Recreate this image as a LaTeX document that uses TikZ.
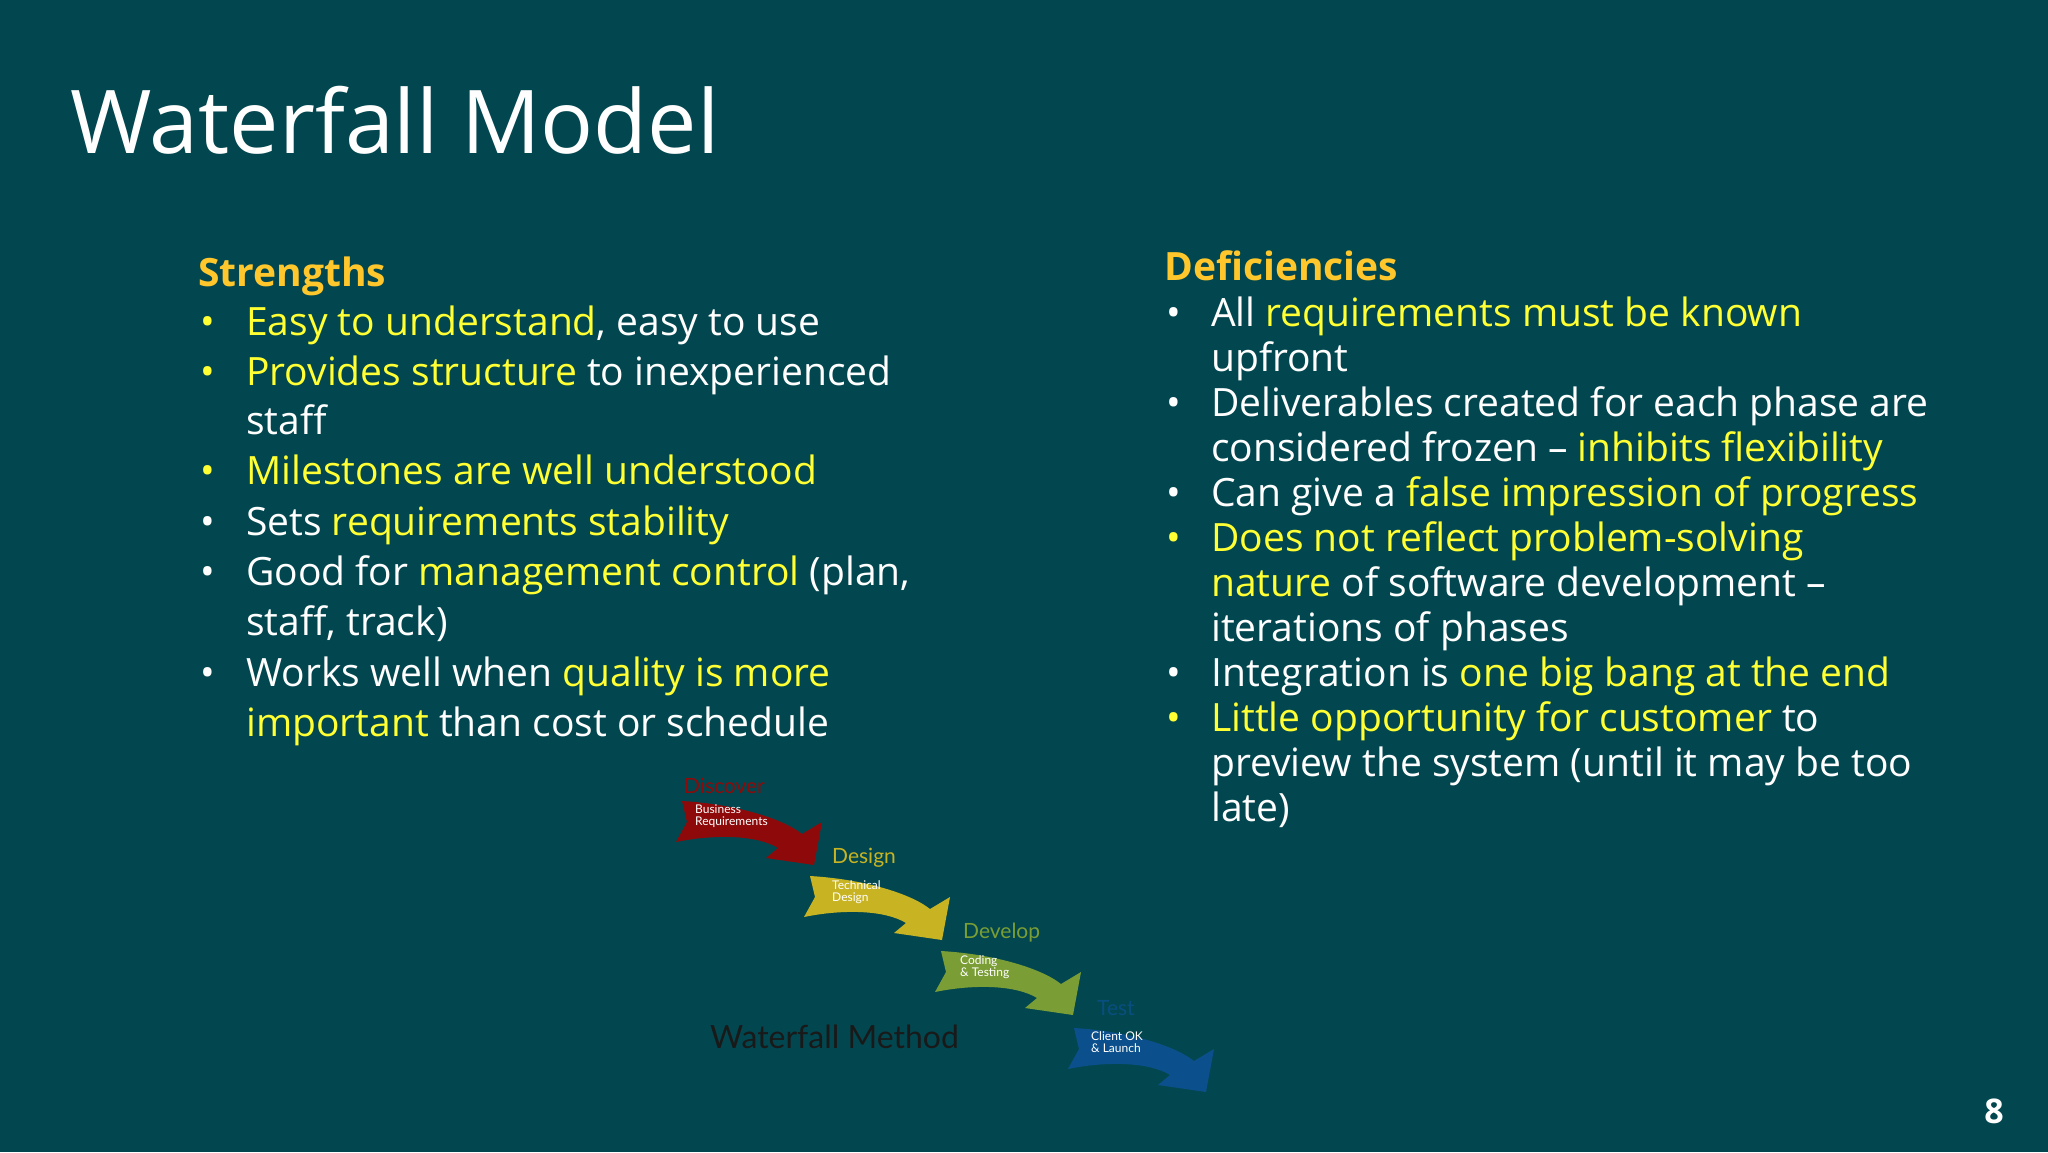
\documentclass[tikz,border=0pt]{standalone}
\usepackage{fontspec}
\setmainfont{Open Sans}
\newfontfamily\wffont{Lato}
\definecolor{bg}{HTML}{02474F}
\definecolor{hl}{HTML}{FFFF33}
\definecolor{hd}{HTML}{FFC72C}
\definecolor{wred}{HTML}{8E0A0A}
\definecolor{wyel}{HTML}{C8B422}
\definecolor{wgrn}{HTML}{7A9E35}
\definecolor{wblu}{HTML}{0B508C}
\newcommand\wfarrow[3]{\fill[#3,shift={(#1,#2)}] (0,-2) .. controls (52,1) and (100,15) .. (120,31) -- (140,19) -- (132,62) -- (84,55) -- (96,45) .. controls (75,32) and (33,31) .. (-6,39) -- (5,19) -- cycle;}
\newcommand\hy[1]{\textcolor{hl}{#1}}
\tikzset{
 ln/.style={anchor=base west,inner sep=0pt,text=white,font=\fontsize{39}{39}\selectfont},
 hdr/.style={anchor=base west,inner sep=0pt,text=hd,font=\fontsize{39}{39}\selectfont\bfseries},
 wl/.style={anchor=west,inner sep=0pt,font=\wffont\fontsize{21}{21}\selectfont},
 wi/.style={anchor=north west,inner sep=0pt,text=white,align=left,font=\wffont\fontsize{12}{12}\selectfont},
}
\begin{document}
\begin{tikzpicture}[x=1pt,y=-1pt]
\fill[bg] (0,0) rectangle (2048,1152);
\useasboundingbox (0,0) rectangle (2048,1152);
\node[anchor=base west,inner sep=0pt,text=white,font=\fontsize{88}{88}\selectfont] (title) at (70,153) {Waterfall Model};
% Strengths
\node[hdr] (sh) at (198,286) {Strengths};
\foreach \y/\c [count=\i] in {335/hl,385/hl,484/hl,535/white,585/white,686/white}
  \node[ln,text=\c] (sb\i) at (200,\y) {•};
\node[ln] (s1) at (246,335) {\hy{Easy to understand}, easy to use};
\node[ln] (s2) at (246,385) {\hy{Provides structure} to inexperienced};
\node[ln] (s3) at (246,434) {staff};
\node[ln] (s4) at (246,484) {\hy{Milestones are well understood}};
\node[ln] (s5) at (246,535) {Sets \hy{requirements stability}};
\node[ln] (s6) at (246,585) {Good for \hy{management control} (plan,};
\node[ln] (s7) at (246,635) {staff, track)};
\node[ln] (s8) at (246,686) {Works well when \hy{quality is more}};
\node[ln] (s9) at (246,736) {\hy{important} than cost or schedule};
% Deficiencies
\node[hdr] (dh) at (1164,280) {Deficiencies};
\foreach \k/\c [count=\i] in {0/white,2/white,4/white,5/hl,8/white,9/hl}
  \node[ln,text=\c] (db\i) at (1166,326+45*\k) {•};
\node[ln] (d1) at (1211,326) {All \hy{requirements must be known}};
\node[ln] (d2) at (1211,371) {upfront};
\node[ln] (d3) at (1211,416) {Deliverables created for each phase are};
\node[ln] (d4) at (1211,461) {considered frozen – \hy{inhibits flexibility}};
\node[ln] (d5) at (1211,506) {Can give a \hy{false impression of progress}};
\node[ln] (d6) at (1211,551) {\hy{Does not reflect problem-solving}};
\node[ln] (d7) at (1211,596) {\hy{nature} of software development –};
\node[ln] (d8) at (1211,641) {iterations of phases};
\node[ln] (d9) at (1211,686) {Integration is \hy{one big bang at the end}};
\node[ln] (d10) at (1211,731) {\hy{Little opportunity for customer} to};
\node[ln] (d11) at (1211,776) {preview the system (until it may be too};
\node[ln] (d12) at (1211,821) {late)};
% Waterfall graphic
\wfarrow{682}{803}{wred}
\wfarrow{810}{878}{wyel}
\wfarrow{941}{953}{wgrn}
\wfarrow{1074}{1030}{wblu}
\node[wl,text=wred] (l1) at (684,786) {Discover};
\node[wl,text=wyel] (l2) at (832,858) {Design};
\node[wl,text=wgrn] (l3) at (963,933) {Develop};
\node[wl,text=wblu!80!bg] (l4) at (1097,1008) {Test};
\node[wi] (i1) at (695,805) {Business\\Requirements};
\node[wi] (i2) at (832,880) {Technical\\Design};
\node[wi] (i3) at (960,955) {Coding\\\& Testing};
\node[wi] (i4) at (1091,1031) {Client OK\\\& Launch};
\node[anchor=west,inner sep=0pt,text=black!90,font=\wffont\fontsize{32}{32}\selectfont] (wm) at (710,1037) {Waterfall Method};
\node[anchor=base east,inner sep=0pt,text=white,font=\fontsize{34}{34}\selectfont\bfseries] (pg) at (2004,1123) {8};
\end{tikzpicture}
\end{document}
